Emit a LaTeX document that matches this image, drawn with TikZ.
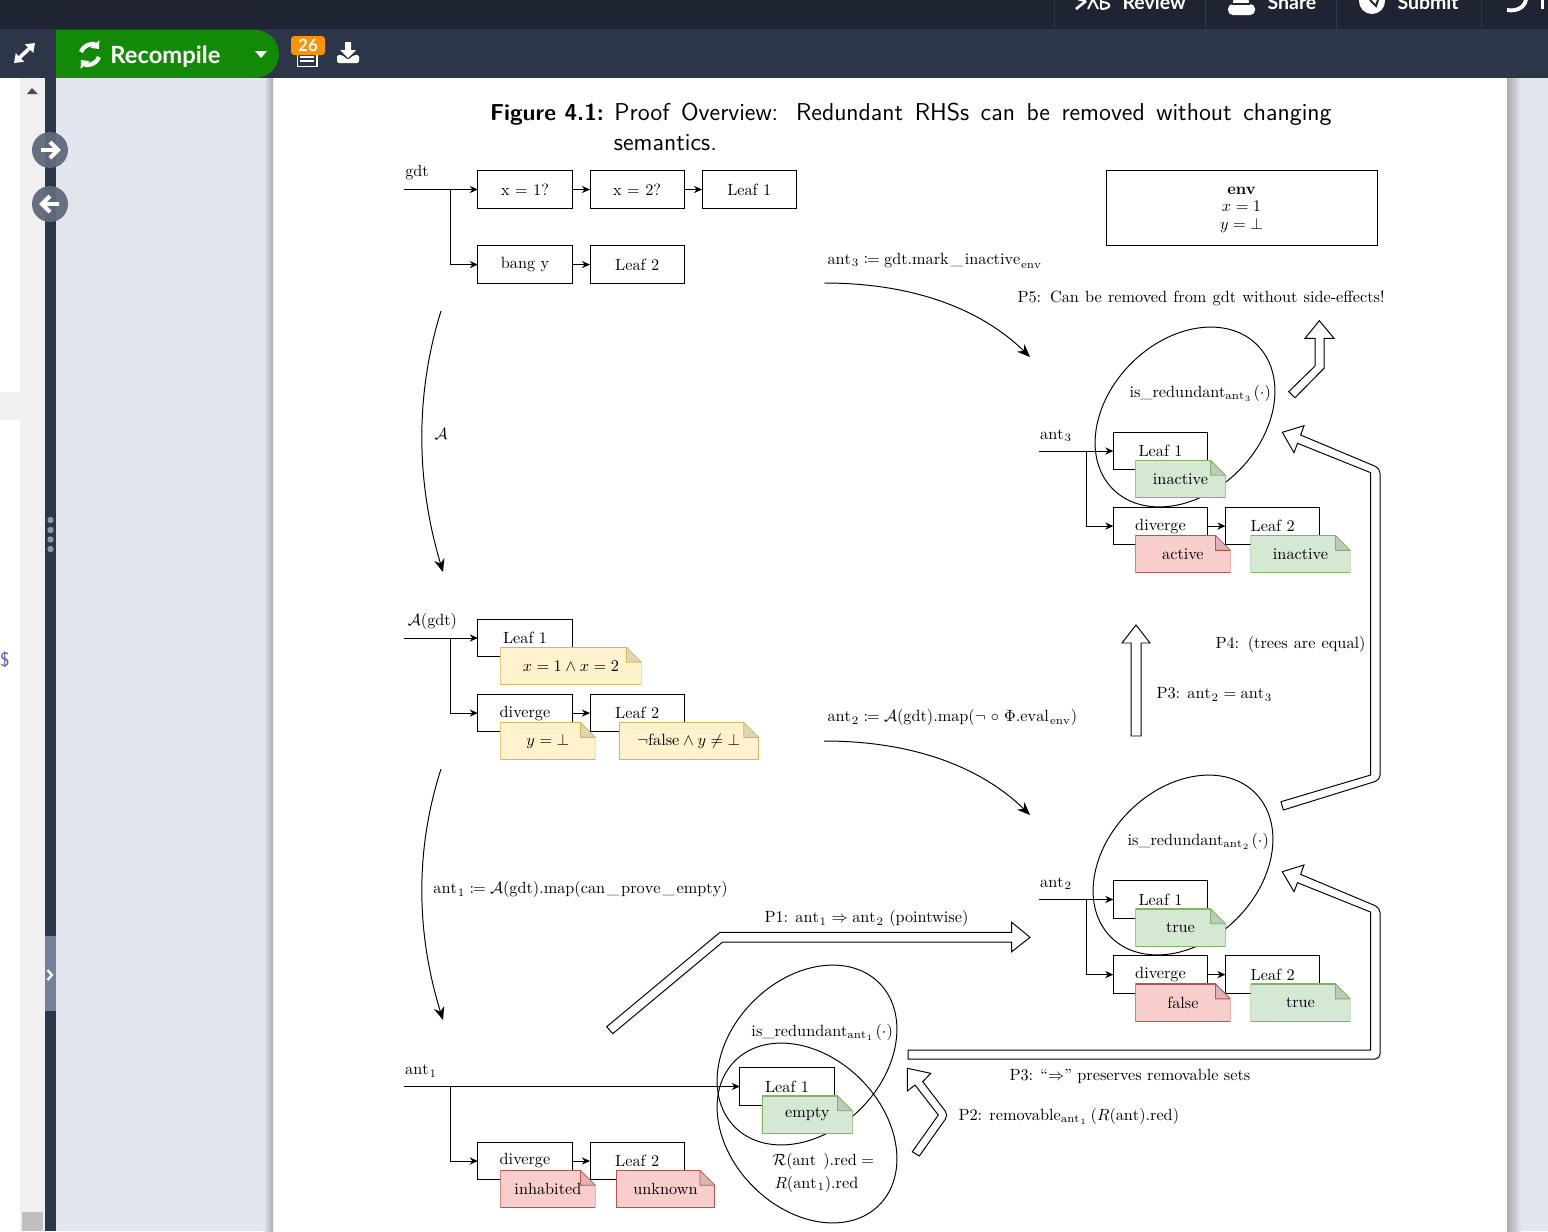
\documentclass[tikz,border=0pt]{standalone}
\usepackage{amsmath}
\usepackage{mathtools}
\usepackage{fontspec}
\usepackage{tikz}
\usetikzlibrary{positioning,arrows.meta,shapes.geometric}
\newfontfamily\uifont{Lato}
\definecolor{bardark}{HTML}{1e2431}
\definecolor{barmid}{HTML}{2d3648}
\definecolor{barline}{HTML}{2f3748}
\definecolor{pagebg}{HTML}{e3e6ef}
\definecolor{pageedge}{HTML}{a9acb4}
\definecolor{scrollbg}{HTML}{f0f0f0}
\definecolor{btngreen}{HTML}{138a07}
\definecolor{badgeorange}{HTML}{f89406}
\definecolor{roundbtn}{HTML}{5f6a7b}
\definecolor{handle}{HTML}{74819b}
\definecolor{dotgray}{HTML}{8e96a9}
\definecolor{dollar}{HTML}{5a5ab0}
\definecolor{notegreen}{HTML}{d5e8d4}
\definecolor{edgegreen}{HTML}{82b366}
\definecolor{notered}{HTML}{f8cecc}
\definecolor{edgered}{HTML}{b85450}
\definecolor{noteyellow}{HTML}{fff2cc}
\definecolor{edgeyellow}{HTML}{d6b656}
\newcommand{\ant}[1]{\mathrm{ant}_{\kern.5pt#1}}
\newcommand{\uscore}{\kern.12em\_\kern.12em}

\begin{document}
\begin{tikzpicture}[
  x=0.6154pt,y=-0.6154pt,
  line width=.6pt,
  box/.style={rectangle,draw,outer sep=0pt,inner sep=0pt,
              minimum width=58pt,minimum height=23.2pt,align=center},
  flow/.style={-{Stealth[length=5pt,width=4.4pt]}},
  curved/.style={-{Stealth[length=8pt,width=6.5pt]}},
  hollow/.style={draw,fill=white,line join=miter},
  blob/.style={ellipse,draw,inner sep=0pt,minimum width=125.5pt,minimum height=93.5pt},
  notebox/.style n args={2}{rectangle,anchor=north west,inner sep=0pt,outer sep=0pt,
              minimum height=23.1pt,align=center,
              path picture={
                \coordinate (nw) at (path picture bounding box.north west);
                \coordinate (ne) at (path picture bounding box.north east);
                \coordinate (se) at (path picture bounding box.south east);
                \coordinate (sw) at (path picture bounding box.south west);
                \fill[#1] (nw) -- ([xshift=-9.2pt]ne) -- ([yshift=-9.2pt]ne) -- (se) -- (sw) -- cycle;
                \fill[#1!88!black] ([xshift=-9.2pt]ne) -- ([xshift=-9.2pt,yshift=-9.2pt]ne) -- ([yshift=-9.2pt]ne) -- cycle;
                \draw[#2,line width=1pt] (nw) -- ([xshift=-9.2pt]ne) ([yshift=-9.2pt]ne) -- (se) -- (sw) -- (nw);
                \draw[#2,line width=.5pt] ([xshift=-9.2pt]ne) -- ([yshift=-9.2pt]ne)
                      -- ([xshift=-9.2pt,yshift=-9.2pt]ne) -- cycle;
              }},
  good/.style={notebox={notegreen}{edgegreen}},
  bad/.style={notebox={notered}{edgered}},
  cond/.style={notebox={noteyellow}{edgeyellow}},
  txt/.style={anchor=west,inner sep=0pt},
  uitext/.style={text=white,inner sep=0pt,font=\uifont\bfseries\fontsize{12}{14}\selectfont},
  icon/.style={white,line width=1.6pt}
]
  \useasboundingbox (0,0) rectangle (1548,1231);

  % editor window round the page
  \fill[white] (0,0) rectangle (1548,1231);
  \fill[pagebg] (56,78) rectangle (273,1231);
  \fill[pagebg] (1507,78) rectangle (1548,1231);
  \shade[left color=pagebg,right color=pageedge] (264,78) rectangle (273,1231);
  \shade[left color=pageedge,right color=pagebg] (1507,78) rectangle (1521,1231);
  \fill[black!6] (0,392) rectangle (20,420);
  \fill[scrollbg] (20,78) rectangle (45,1231);
  \fill[barmid] (45,78) rectangle (56,1231);
  \fill[handle] (45,936) rectangle (56,1011);
  \fill[black!25] (22,1212) rectangle (43,1231);
  \fill[black!70] (27,94) -- (32,88) -- (38,94) -- cycle;
  \fill[bardark] (0,0) rectangle (1548,29);
  \fill[barmid] (0,29) rectangle (1548,78);
  \foreach \sepx in {1054,1205,1336,1481}
    \draw[barline] (\sepx,0) -- (\sepx,29);

  % toolbar
  \draw[icon,line width=2.2pt,{Triangle[length=5pt,width=7pt]}-{Triangle[length=5pt,width=7pt]}] (14,63) -- (35,43);
  \fill[btngreen] (56,30) rectangle (255,78);
  \fill[btngreen] (255,54) circle (24);
  \draw[icon,line width=2.6pt,-{Triangle[length=4pt,width=7pt]}] (81,52) .. controls (84,44) and (94,43) .. (99,49);
  \draw[icon,line width=2.6pt,-{Triangle[length=4pt,width=7pt]}] (99,57) .. controls (96,65) and (86,66) .. (81,60);
  \node[uitext,font=\uifont\bfseries\fontsize{14.6}{18}\selectfont,anchor=base west] (recompile) at (110,63) {Recompile};
  \fill[white] (255,51) -- (267,51) -- (261,58) -- cycle;
  \draw[white,line width=1pt] (297.5,50) -- (297.5,66.5) -- (317,66.5) -- (317,50);
  \fill[white] (300,56) rectangle (314,58);
  \fill[white] (300,60) rectangle (314,62);
  \fill[badgeorange,rounded corners=2pt] (291,36) rectangle (325,55);
  \node[uitext,font=\uifont\bfseries\fontsize{10.4}{12}\selectfont] (badge) at (308,45) {26};
  \fill[white] (345,42) -- (351,42) -- (351,50) -- (356,50) -- (348,58) -- (340,50) -- (345,50) -- cycle;
  \fill[white,rounded corners=1pt] (337,55) -- (342,55) -- (348,60) -- (354,55) -- (359,55) -- (359,63) -- (337,63) -- cycle;

  % top bar, cut off by the page
  \draw[icon] (1076,9) -- (1086,1) (1078,-1) -- (1086,1);
  \draw[icon,line width=1.2pt] (1088,9) -- (1093,-1) -- (1098,9) (1101,9) -- (1101,-1) (1101,9) .. controls (1112,9) and (1112,2) .. (1101,2);
  \node[uitext,anchor=base west] (review) at (1122,9) {Review};
  \fill[white,rounded corners=3pt] (1228,15) rectangle (1255,4);
  \fill[white] (1241,2) circle (8);
  \draw[bardark,line width=1pt] (1232,4) -- (1250,4);
  \node[uitext,anchor=base west] (share) at (1267,9) {Share};
  \fill[white] (1372,1) circle (13);
  \draw[bardark,line width=1.2pt] (1370,0) -- (1376,6) -- (1378,0);
  \node[uitext,anchor=base west] (submit) at (1397,9) {Submit};
  \draw[icon,line width=2.4pt] (1507,10) .. controls (1518,12) and (1527,6) .. (1526,-4);
  \fill[white] (1541,0) rectangle (1544,9);

  % side strip
  \foreach \btny in {150,204}
    \fill[roundbtn,opacity=.95] (50,\btny) circle (18);
  \draw[white,line width=2.4pt] (41,150) -- (57,150) (50,142) -- (58,150) -- (50,158);
  \draw[white,line width=2.4pt] (59,204) -- (43,204) (50,196) -- (42,204) -- (50,212);
  \foreach \doty in {520,530,539.5,549}
    \fill[dotgray] (50.5,\doty) circle (3.2);
  \draw[white,line width=1.4pt] (47.5,970) -- (52,975) -- (47.5,980);
  \node[text=dollar,inner sep=0pt,font=\sffamily\fontsize{12}{14}\selectfont] (dollarsign) at (5,660) {\$};

  % caption
  \node[anchor=base east,inner sep=0pt,font=\sffamily\bfseries\fontsize{14.2}{18}\selectfont] (figlabel) at (604.5,120)
       {Figure 4.1:};
  \node[anchor=base west,inner sep=0pt,font=\sffamily\fontsize{15}{18}\selectfont] (figline) at (614,120)
       {\makebox[441.3pt][s]{Proof Overview: Redundant RHSs can be removed without changing}};
  \node[anchor=base west,inner sep=0pt,font=\sffamily\fontsize{15}{18}\selectfont] (figrest) at (613.5,150)
       {semantics.};

  % gdt
  \node[box] (gx) at (525,189.5) {x = 1?};
  \node[box,right=11pt of gx] (gy) {x = 2?};
  \node[box,right=11pt of gy] (gleafa) {Leaf 1};
  \node[box,below=23pt of gx] (gbang) {bang y};
  \node[box,right=11pt of gbang] (gleafb) {Leaf 2};
  \node (glabel) at (417,172.5) {gdt};
  \coordinate (groot) at (404,189.5);
  \coordinate (gfork) at (450.5,189.5);
  \draw[flow] (groot) -- (gx);
  \draw[flow] (gfork) |- (gbang);
  \draw[flow] (gx) -- (gy);
  \draw[flow] (gy) -- (gleafa);
  \draw[flow] (gbang) -- (gleafb);

  % A(gdt)
  \node[box] (aleafa) at (525,638) {Leaf 1};
  \node[box,below=23pt of aleafa] (adiv) {diverge};
  \node[box,right=11pt of adiv] (aleafb) {Leaf 2};
  \node (alabel) at (432.5,621.5) {$\mathcal{A}(\mathrm{gdt})$};
  \coordinate (aroot) at (404,638);
  \coordinate (afork) at (450.5,638);
  \draw[flow] (aroot) -- (aleafa);
  \draw[flow] (afork) |- (adiv);
  \draw[flow] (adiv) -- (aleafb);
  \node[cond,minimum width=86.8pt] (anotea) at ([shift={(22.5,-9.5)}]aleafa.south west) {$x = 1 \land x = 2$};
  \node[cond,minimum width=58.5pt] (anoteb) at ([shift={(22.5,-9.5)}]adiv.south west) {$y = \bot$};
  \node[cond,minimum width=86pt] (anotec) at ([shift={(29,-9.5)}]aleafb.south west) {$\neg\mathrm{false} \land y \neq \bot$};

  % ant1
  \node[box] (oleafa) at (787,1086.5) {Leaf 1};
  \node[box] (odiv) at (525,1161) {diverge};
  \node[box,right=11pt of odiv] (oleafb) {Leaf 2};
  \node (olabel) at (421,1071) {$\ant{1}$};
  \coordinate (oroot) at (404,1086.5);
  \coordinate (ofork) at (450.5,1086.5);
  \draw[flow] (oroot) -- (oleafa);
  \draw[flow] (ofork) |- (odiv);
  \draw[flow] (odiv) -- (oleafb);
  \node[blob,rotate=45] (oredund) at (807,1055) {};
  \node[blob,rotate=-45] (orefine) at (807,1133) {};
  \node[good,minimum width=55.8pt] (onotea) at ([shift={(22,-9.5)}]oleafa.south west) {empty};
  \node[bad,minimum width=58.5pt] (onoteb) at ([shift={(22.5,-9.5)}]odiv.south west) {inhabited};
  \node[bad,minimum width=60.9pt] (onotec) at ([shift={(26,-9.5)}]oleafb.south west) {unknown};
  \node[txt] (oredtext) at (751,1032) {is\_redundant$_{\ant{1}}\kern1pt(\cdot)$};
  \node[txt,align=left] (orefline) at (772,1161) {$\mathcal{R}(\mathrm{ant}\phantom{_1}).\mathrm{red} =$};
  \node[txt,align=left] (orefnext) at (774,1184) {$R(\ant{1}).\mathrm{red}$};

  % ant2
  \node[box] (bleafa) at (1160.5,899.5) {Leaf 1};
  \node[box,below=23pt of bleafa] (bdiv) {diverge};
  \node[box,right=11pt of bdiv] (bleafb) {Leaf 2};
  \node (blabel) at (1056,883.5) {$\ant{2}$};
  \coordinate (broot) at (1039,899.5);
  \coordinate (bfork) at (1086,899.5);
  \draw[flow] (broot) -- (bleafa);
  \draw[flow] (bfork) |- (bdiv);
  \draw[flow] (bdiv) -- (bleafb);
  \node[blob,rotate=45] (bredund) at (1183,865) {};
  \node[good,minimum width=55.5pt] (bnotea) at ([shift={(22,-9.5)}]bleafa.south west) {true};
  \node[bad,minimum width=58.5pt] (bnoteb) at ([shift={(22,-9.5)}]bdiv.south west) {false};
  \node[good,minimum width=61.5pt] (bnotec) at ([shift={(25,-9.5)}]bleafb.south west) {true};
  \node[txt] (bredtext) at (1127,841) {is\_redundant$_{\ant{2}}\kern1pt(\cdot)$};

  % ant3
  \node[box] (cleafa) at (1160.5,451) {Leaf 1};
  \node[box,below=23pt of cleafa] (cdiv) {diverge};
  \node[box,right=11pt of cdiv] (cleafb) {Leaf 2};
  \node (clabel) at (1056,435.5) {$\ant{3}$};
  \coordinate (croot) at (1039,451);
  \coordinate (cfork) at (1086,451);
  \draw[flow] (croot) -- (cleafa);
  \draw[flow] (cfork) |- (cdiv);
  \draw[flow] (cdiv) -- (cleafb);
  \node[blob,rotate=45] (credund) at (1185,417) {};
  \node[good,minimum width=55.5pt] (cnotea) at ([shift={(22,-9.5)}]cleafa.south west) {inactive};
  \node[bad,minimum width=58.5pt] (cnoteb) at ([shift={(22,-9.5)}]cdiv.south west) {active};
  \node[good,minimum width=61.5pt] (cnotec) at ([shift={(25,-9.5)}]cleafb.south west) {inactive};
  \node[txt] (credtext) at (1129,393) {is\_redundant$_{\ant{3}}\kern1pt(\cdot)$};

  \node[box,minimum width=166.8pt,minimum height=46pt] (env) at (1241.5,208) {};
  \node[inner sep=0pt,align=center,execute at begin node={\baselineskip=10.8pt}] (envtext) at (1241.5,209.5)
       {\textbf{env}\\$x = 1$\\$y = \bot$};

  % curved steps between the trees
  \coordinate (stepa) at (441,311);
  \coordinate (stepb) at (443,572);
  \coordinate (stepc) at (441,769);
  \coordinate (stepd) at (443,1020);
  \coordinate (stepe) at (824,283);
  \coordinate (stepf) at (1030,357);
  \coordinate (stepg) at (824,741);
  \coordinate (steph) at (1030,815);
  \draw[curved] (stepa) .. controls (414,398) and (417,485) .. (stepb);
  \draw[curved] (stepc) .. controls (414,853) and (417,936) .. (stepd);
  \draw[curved] (stepe) .. controls (920,283) and (985,313) .. (stepf);
  \draw[curved] (stepg) .. controls (920,741) and (985,771) .. (steph);

  % proof steps
  \path[hollow] (606.7,1026.7) -- (720,932.3) -- (1011.7,932.3) -- (1011.7,922.3) -- (1030,937.3)
        -- (1011.7,951.7) -- (1011.7,942) -- (722.7,942) -- (612.7,1033.7) -- cycle;
  \path[hollow] (912.3,1151.7) -- (938.3,1115) -- (915,1085) -- (907.3,1091) -- (907.3,1068.3)
        -- (930.7,1073.3) -- (922.7,1081.7) [rounded corners=3pt] -- (948.3,1115) [sharp corners] -- (919.3,1156) -- cycle;
  \path[hollow] (908,1050) -- (1370.7,1050) -- (1370.7,912.1) -- (1297.5,882.7) -- (1294,891.7)
        -- (1282.3,871.7) -- (1304,865) -- (1300.6,874.4) [rounded corners=3pt] -- (1380,907.7)
        -- (1380,1059) [sharp corners] -- (908,1059) -- cycle;
  \path[hollow] (1131,736) -- (1131,643) -- (1122,643) -- (1136,625) -- (1150,643) -- (1141,643) -- (1141,736) -- cycle;
  \path[hollow] (1281,801.7) -- (1370.7,775) -- (1370.7,472.7) -- (1297.5,443.3) -- (1294,452.7)
        -- (1282.3,432.3) -- (1304,425.7) -- (1300.6,435) [rounded corners=3pt] -- (1380,468.3)
        -- (1380,780) [sharp corners] -- (1283.3,810) -- cycle;
  \path[hollow] (1288.7,391.7) -- (1315,366) -- (1315,338.3) -- (1305,338.3) -- (1319.3,320.7)
        -- (1334,338.3) -- (1324,338.3) -- (1324,368.3) -- (1295,397.7) -- cycle;

  \node[txt] (lmark) at (827,261) {$\ant{3} \coloneqq \mathrm{gdt.mark\uscore inactive}_{\kern.5pt\mathrm{env}}$};
  \node[txt] (lfive) at (1017,298.5) {\makebox[225.9pt][s]{P5: Can be removed from gdt without side-effects!}};
  \node (lalg) at (441,434) {$\mathcal{A}$};
  \node[txt] (lfour) at (1215,644.5) {\makebox[92.3pt][s]{P4: (trees are equal)}};
  \node[txt] (lthree) at (1156,694.5) {P3: $\ant{2} = \ant{3}$};
  \node[txt] (lmap) at (827,717.5) {$\ant{2} \coloneqq \mathcal{A}(\mathrm{gdt}).\mathrm{map}(\neg\kern1pt\circ\kern1pt\Phi.\mathrm{eval}_{\kern.8pt\mathrm{env}})$};
  \node[txt] (lprove) at (433,889.5) {$\ant{1} \coloneqq \mathcal{A}(\mathrm{gdt}).\mathrm{map}(\mathrm{can\uscore prove\uscore empty})$};
  \node[txt] (lone) at (764,918.5) {P1: $\ant{1} \Rightarrow \ant{2}$ (pointwise)};
  \node[txt] (lsets) at (1009,1076.5) {P3: ``$\Rightarrow$'' preserves removable sets};
  \node[txt] (ltwo) at (958,1116) {P2: removable$_{\ant{1}}\kern2pt(R(\mathrm{ant}).\mathrm{red})$};
\end{tikzpicture}
\end{document}
